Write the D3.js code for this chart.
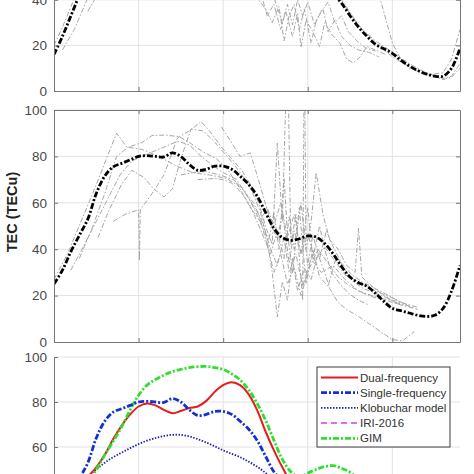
<!DOCTYPE html>
<html>
<head>
<meta charset="utf-8">
<script src="https://cdn.jsdelivr.net/npm/d3@7"></script>
<style>
  body { margin: 0; background: #fff; }
  svg { display: block; font-family: "Liberation Sans", Arial, sans-serif; }
</style>
</head>
<body>
<svg id="chart" width="474" height="474"></svg>
<script>
// hours of day and TEC values [hour, TECu]
const xTicks = [0, 5, 10, 15, 20];
const yTicks = [0, 20, 40, 60, 80, 100];

// top panel (only the lower part is in frame)
const topMean = [[0,16],[0.5,24],[1,33],[1.5,42],[2,50],[3,62],[4,70],[5,75],[6,78],[7,80],[8,80],[9,78],[10,75],[11,72],[12,68],[13,63],[14,57],[15,51],[16,45],[16.5,42.5],[17,38.5],[17.5,33],[18,28],[18.5,24],[19,20.5],[19.5,18.5],[20,16.5],[20.5,13.5],[21,11],[21.5,9],[22,7.5],[22.5,6.5],[23,6.5],[23.5,10],[24,18.8]];
const topGrayA = [[0,20],[0.5,28],[1,37],[1.5,46],[2.2,56],[4,72],[8,82],[12,70],[15,52],[17,40],[18,29],[19,21],[20,15],[21,10.5],[22,7],[23,8],[23.5,14],[24,27]];
const topGrayB = [[0.5,18],[1.2,27],[1.95,40],[3,58],[6,80],[10,78],[14,58],[16,46],[17.2,37],[18.2,27],[19,22],[20,17],[21,12],[22,8],[23,5.5],[23.5,6.5],[24,12]];
const topGrayC = [[2,35],[4,60],[8,78],[12,74],[16,66],[18.5,58],[19.3,40],[20,21],[20.5,14],[21,10],[22,7.5],[23,5],[23.5,6],[24,10]];
const topGrayD = [[11,60],[12.3,41],[12.6,33],[13,38],[13.4,27],[13.7,35],[14.1,24],[14.4,34],[14.6,19],[14.9,31],[15.3,26],[15.7,19.5],[16,30],[16.4,25],[16.9,21],[17.3,14],[17.7,12.3],[18.1,15],[18.5,19.5],[19,18],[19.6,16]];
const topGrayE = [[10,66],[12.1,40],[12.5,36],[12.9,30],[13.3,37],[13.6,22],[13.9,33],[14.2,38],[14.5,27],[14.8,36],[15.2,21],[15.5,31],[15.9,36],[16.2,26],[16.6,31],[17,24],[17.5,20],[18,18],[18.6,17],[19.2,15]];
const topGrayF = [[12,52],[13,41],[13.5,30],[13.8,38],[14.1,29],[14.4,40],[14.7,33],[15,39],[15.4,29],[15.8,35],[16.2,39],[16.6,30],[17,33],[17.4,26],[17.9,22],[18.4,19],[19,17.5]];

// middle panel
const midMean = [[0,25],[0.5,31],[1,39],[1.5,46],[2,53],[2.5,64],[3,71.5],[3.5,75.5],[4,77],[4.5,78.5],[5,80],[5.5,80.3],[6,80],[6.5,79.8],[7,81.5],[7.5,80],[8,76.5],[8.5,74],[9,74.5],[9.5,75.8],[10,75.8],[10.5,74.5],[11,71.5],[11.5,68],[12,63],[12.5,56],[13,49],[13.5,45],[14,43.8],[14.5,44.5],[15,45.7],[15.5,45.2],[16,42.5],[16.5,38],[17,32.5],[17.5,28],[18,25.5],[18.5,24],[19,21],[19.5,17.5],[20,14.5],[20.5,13.5],[21,12.5],[21.5,11.5],[22,11],[22.5,11.5],[23,14.5],[23.5,22],[24,33]];
const midGrayA = [[0,27],[0.8,38],[1.6,52],[2.4,66],[3.1,79],[3.7,90],[4.3,84],[5.2,83],[6.2,80],[7.2,76],[8.2,73],[9.2,72],[10.2,70.5],[11,67],[11.8,60],[12.4,50],[12.8,40],[13.2,33],[13.6,45],[13.9,30],[14.3,38],[14.7,24],[15.2,36],[15.8,30],[16.5,33],[17.2,27],[18,22],[18.8,20],[19.6,18],[20.5,16],[21.3,14.5]];
const midGrayB = [[1,31],[1.8,42],[2.5,52],[3.2,62],[3.9,72],[4.6,78],[5.5,81],[6.5,84],[7.3,86.5],[8,85],[8.7,80],[9.4,76],[10,73],[10.8,70],[11.5,62],[12.1,55],[12.6,42],[13,30],[13.4,38],[13.8,25],[14.2,32],[14.6,20],[15,30],[15.6,40],[16.2,34],[16.8,28],[17.5,24],[18.3,21],[19,19],[20,18],[21,16],[21.5,15]];
const midGrayC = [[1.5,36],[2.3,50],[3,64],[3.7,80],[4.4,84],[5.2,86],[5.8,89],[6.6,89.2],[7.4,88.5],[8,86],[8.8,82],[9.6,79],[10.3,74],[11,66],[11.6,58],[12.2,52],[12.6,58],[13,50],[13.4,60],[13.8,45],[14.2,55],[14.6,38],[15,47],[15.4,35],[16,41],[16.6,35],[17.2,29],[18,26],[19,22],[20,19],[21,15.5]];
const midGrayD = [[2.6,45],[3.2,56],[4,68],[4.6,74],[5.3,71],[5.9,66],[6.5,62.5],[7,66],[7.5,79],[8.1,91.8],[8.8,91],[9.4,87],[10,82],[10.6,77],[11.2,71],[11.7,65],[12.2,56],[12.6,44],[12.9,30],[13.2,10.8],[13.5,26],[13.8,18],[14.1,36],[14.4,22],[14.8,32],[15.2,27],[15.6,38],[16,30],[16.3,23],[16.8,17],[17.3,14],[18,11],[19,6],[20,1],[20.6,0.5],[21.3,4.5]];
const midGrayE = [[3.5,52],[4.2,55],[5,57],[5.05,35],[5.1,57],[5.8,64],[6.5,72],[7.3,88],[8,91],[8.7,95],[9.3,90],[9.9,84],[10.5,79],[11.1,74],[11.6,68],[12.1,60],[12.5,50],[12.9,42],[13.2,85.8],[13.5,52],[13.8,130],[14,42],[14.3,55],[14.7,18],[14.8,130],[14.9,40],[15.2,52],[15.5,73],[15.9,55],[16.3,44],[16.8,40],[17.3,33],[17.8,30],[18,49],[18.2,28],[18.8,24],[19.5,20],[20.2,17],[21,15.5],[21.5,14]];
const midGrayF = [[8.5,70],[9,70.2],[9.5,70.5],[10,70],[10.5,68.5],[11,65],[11.5,60],[12,52],[12.4,45],[12.8,38],[13.2,48],[13.6,36],[13.9,54],[14.2,40],[14.6,60],[15,33],[15.3,46],[15.7,36],[16.1,48],[16.5,41],[17,34],[17.6,29],[18.2,26],[19,23],[19.8,20],[20.5,17]];
const midGrayG = [[7.5,72],[8.2,73],[9,73.5],[9.8,72],[10.6,70],[11.2,66],[11.8,58],[12.3,50],[12.7,44],[13,56],[13.3,40],[13.6,70.7],[13.8,47],[14.1,30],[14.5,58],[14.9,25],[15.3,40],[15.7,28],[16.2,24],[16.7,37],[17.2,31],[17.7,26],[18.3,23],[19,21],[19.7,19],[20.4,16]];
const midGrayH = [[9.9,92.7],[10.4,87],[11,80],[11.6,81.5],[12,72],[12.4,62],[12.8,52],[13.2,44],[13.5,56],[13.9,34],[14.2,48],[14.6,38],[15,58],[15.3,36],[15.7,50],[16,40],[16.4,30],[16.8,26],[17.4,21],[18,18],[18.6,16]];

// bottom panel
const dualFreq = [[0,20],[1,30],[1.5,38],[2,46.5],[2.5,51],[3,56.5],[3.5,63.5],[4,69.5],[4.5,74.5],[5,78],[5.5,79.3],[6,78.5],[6.5,76.5],[7,75],[7.5,76],[8,77.3],[8.5,78],[9,80.5],[9.5,84.5],[10,87.5],[10.5,88.8],[11,87.5],[11.5,83.5],[12,76.5],[12.5,67],[13,58.5],[13.5,51],[14,45],[15,40],[16,38],[17,32],[18,26],[19,20],[20,15],[21,12],[22,11],[23,14],[24,22]];
const singleFreq = midMean;
const klobuchar = [[0,22],[1,30],[1.5,38],[2,46.5],[2.5,50],[3,53],[3.5,55.5],[4,57.5],[4.5,59.5],[5,61.3],[5.5,62.8],[6,64],[6.5,64.9],[7,65.4],[7.5,65.4],[8,64.7],[8.5,63.5],[9,62],[9.5,60.3],[10,58.5],[10.5,57],[11,55.5],[11.5,53.5],[12,51.3],[12.5,48.5],[13,45],[14,38],[15,30],[16,24],[17,20],[18,18],[20,17],[24,17]];
const iri2016 = [[0,15],[3,28],[6,40],[9,45],[12,42],[15,33],[18,22],[21,14],[24,13]];
const gim = [[0,18],[1,28],[2,44],[2.5,50],[3,56.5],[3.5,62.5],[4,69],[4.5,76.5],[5,83],[5.5,87.5],[6,90],[6.5,92],[7,93.5],[7.5,94.5],[8,95.3],[8.5,95.7],[9,95.8],[9.5,95.3],[10,94.5],[10.5,92.5],[11,89.8],[11.5,85.5],[12,79.5],[12.5,72],[13,63],[13.5,54.5],[14,49],[14.5,46.5],[15,48.4],[15.5,50],[16,51.3],[16.5,51.7],[17,50.5],[17.5,48.8],[18,45],[19,36],[20,28],[21,22],[22,18],[23,17],[24,20]];

const legendNames = ['Dual-frequency', 'Single-frequency', 'Klobuchar model', 'IRI-2016', 'GIM'];

const svg = d3.select('#chart');
const left = 54, right = 460;
const x = d3.scaleLinear().domain([0, 24]).range([left, right]);

const axisColor = '#777';
const gridColor = '#e2e2e2';
const labelColor = '#4a4a4a';

const grayStyle = { stroke: '#a6a6a6', width: 1, dash: '5,2,1.5,2', curve: d3.curveLinear };
const meanStyle = { stroke: '#000', width: 2.8, dash: '6,2,2,2', curve: d3.curveCatmullRom };

const styles = [
  { stroke: '#e51c1c', width: 2, dash: null, curve: d3.curveCatmullRom },
  { stroke: '#1430cf', width: 2.8, dash: '6,2,2,2', curve: d3.curveCatmullRom },
  { stroke: '#2222b0', width: 1.8, dash: '1.5,1.5', curve: d3.curveCatmullRom },
  { stroke: '#dd3bdd', width: 1.5, dash: '6,4', curve: d3.curveCatmullRom },
  { stroke: '#2ee02e', width: 2.8, dash: '6,2,2,2', curve: d3.curveCatmullRom }
];

function panel(id, y0, y100, box, series)
{
  const y = d3.scaleLinear().domain([0, 100]).range([y0, y100]);
  const g = svg.append('g');

  // grid
  g.selectAll('.gx').data(xTicks.slice(1)).enter().append('line')
    .attr('x1', d => x(d)).attr('x2', d => x(d))
    .attr('y1', y(0)).attr('y2', y(100))
    .attr('stroke', gridColor).attr('stroke-width', 1);
  g.selectAll('.gy').data(yTicks.slice(1)).enter().append('line')
    .attr('x1', left).attr('x2', right)
    .attr('y1', d => y(d)).attr('y2', d => y(d))
    .attr('stroke', gridColor).attr('stroke-width', 1);

  svg.append('clipPath').attr('id', 'clip-' + id)
    .append('rect').attr('x', left).attr('y', y(100))
    .attr('width', right - left).attr('height', y(0) - y(100));

  const lines = g.append('g').attr('clip-path', `url(#clip-${id})`);
  series.forEach(s => {
    const line = d3.line().curve(s.style.curve)
      .x(d => x(d[0])).y(d => y(d[1]));
    lines.append('path')
      .datum(s.data)
      .attr('fill', 'none')
      .attr('stroke', s.style.stroke)
      .attr('stroke-width', s.style.width)
      .attr('stroke-dasharray', s.style.dash)
      .attr('stroke-linejoin', 'round')
      .attr('d', line);
  });

  // axes, MATLAB-like ticks pointing inward
  const yAxis = d3.axisLeft(y).tickValues(yTicks).tickSizeInner(-4).tickSizeOuter(0).tickPadding(7);
  const xAxis = d3.axisBottom(x).tickValues(xTicks).tickSizeInner(-4).tickSizeOuter(0).tickFormat('');
  const ya = g.append('g').attr('transform', `translate(${left},0)`).call(yAxis);
  const xa = g.append('g').attr('transform', `translate(0,${y0})`).call(xAxis);
  [ya, xa].forEach(a => {
    a.select('.domain').attr('stroke', axisColor);
    a.selectAll('.tick line').attr('stroke', axisColor);
    a.selectAll('text').attr('fill', labelColor).attr('font-size', 13.5)
      .attr('font-family', '"Liberation Sans", Arial, sans-serif');
  });

  if (box)
  {
    const ra = g.append('g').attr('transform', `translate(${right},0)`)
      .call(d3.axisRight(y).tickValues(yTicks).tickSizeInner(-4).tickSizeOuter(0).tickFormat(''));
    const ta = g.append('g').attr('transform', `translate(0,${y(100)})`)
      .call(d3.axisTop(x).tickValues(xTicks).tickSizeInner(-4).tickSizeOuter(0).tickFormat(''));
    [ra, ta].forEach(a => {
      a.select('.domain').attr('stroke', axisColor);
      a.selectAll('.tick line').attr('stroke', axisColor);
    });
  }
  return y;
}

panel('top', 91, -137, true, [
  ...[topGrayA, topGrayB, topGrayC, topGrayD, topGrayE, topGrayF].map(d => ({ data: d, style: grayStyle })),
  { data: topMean, style: meanStyle }
]);

panel('mid', 342, 110, true, [
  ...[midGrayA, midGrayB, midGrayC, midGrayD, midGrayE, midGrayF, midGrayG, midGrayH].map(d => ({ data: d, style: grayStyle })),
  { data: midMean, style: meanStyle }
]);

const bottomSeries = [dualFreq, singleFreq, klobuchar, iri2016, gim];
panel('bot', 582, 357, false,
  [3, 2, 0, 4, 1].map(i => ({ data: bottomSeries[i], style: styles[i] })));

// legend
const lg = svg.append('g').attr('transform', 'translate(317,367)');
lg.append('rect').attr('width', 133).attr('height', 80)
  .attr('fill', '#fff').attr('stroke', '#3a3a3a').attr('stroke-width', 1);
legendNames.forEach((name, i) => {
  const cy = 10.5 + i * 15.2;
  lg.append('line')
    .attr('x1', 4).attr('x2', 41).attr('y1', cy).attr('y2', cy)
    .attr('stroke', styles[i].stroke)
    .attr('stroke-width', styles[i].width)
    .attr('stroke-dasharray', styles[i].dash);
  lg.append('text')
    .attr('x', 43).attr('y', cy).attr('dy', '0.35em')
    .attr('font-size', 11.5).attr('fill', '#333')
    .text(name);
});

// shared y label
svg.append('text')
  .attr('transform', 'translate(17,212) rotate(-90)')
  .attr('text-anchor', 'middle')
  .attr('font-size', 14.5).attr('font-weight', 'bold').attr('fill', '#222')
  .text('TEC (TECu)');
</script>
</body>
</html>
